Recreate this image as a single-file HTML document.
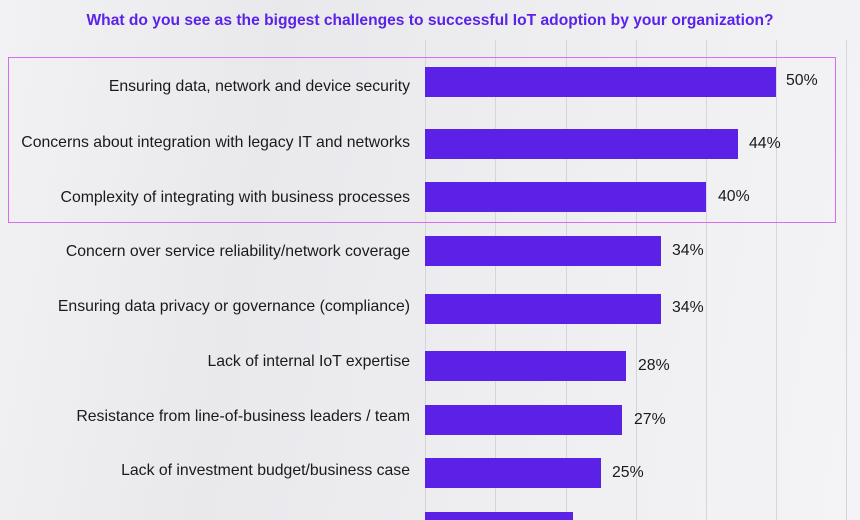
<!DOCTYPE html>
<html><head><style>
html,body{margin:0;width:860px;height:520px;overflow:hidden}
body{font-family:"Liberation Sans",sans-serif;
background:linear-gradient(100deg,#f2f2f4 0%,#e9e9ec 30%,#eeeef1 60%,#f4f4f6 100%);position:relative}
.t{position:absolute;top:12px;left:0;width:860px;text-align:center;color:#5b22e8;font-weight:bold;font-size:15.6px}
.g{position:absolute;top:40px;width:1px;height:480px;background:#d6d6da}
.b{position:absolute;left:425px;height:30px;background:#5b21e6}
.l{position:absolute;right:450px;font-size:15.8px;color:#1a1a1a;white-space:nowrap;text-align:right}
.v{position:absolute;font-size:15.8px;color:#1a1a1a}
.box{position:absolute;left:8px;top:57px;width:826px;height:164px;border:1.5px solid #d66df0}
</style></head><body>
<div class="t">What do you see as the biggest challenges to successful IoT adoption by your organization?</div>
<div class="g" style="left:425px"></div><div class="g" style="left:495px"></div><div class="g" style="left:566px"></div>
<div class="g" style="left:636px"></div><div class="g" style="left:706px"></div><div class="g" style="left:776px"></div><div class="g" style="left:846px"></div>
<div class="box"></div>

<div class="b" style="top:67px;width:351px"></div><div class="l" style="top:78px">Ensuring data, network and device security</div><div class="v" style="top:72px;left:786px">50%</div>
<div class="b" style="top:129px;width:313px"></div><div class="l" style="top:134px">Concerns about integration with legacy IT and networks</div><div class="v" style="top:135px;left:749px">44%</div>
<div class="b" style="top:182px;width:281px"></div><div class="l" style="top:189px">Complexity of integrating with business processes</div><div class="v" style="top:188px;left:718px">40%</div>
<div class="b" style="top:236px;width:236px"></div><div class="l" style="top:243px">Concern over service reliability/network coverage</div><div class="v" style="top:242px;left:672px">34%</div>
<div class="b" style="top:294px;width:236px"></div><div class="l" style="top:298px">Ensuring data privacy or governance (compliance)</div><div class="v" style="top:299px;left:672px">34%</div>
<div class="b" style="top:351px;width:201px"></div><div class="l" style="top:353px">Lack of internal IoT expertise</div><div class="v" style="top:357px;left:638px">28%</div>
<div class="b" style="top:405px;width:197px"></div><div class="l" style="top:408px">Resistance from line-of-business leaders / team</div><div class="v" style="top:411px;left:634px">27%</div>
<div class="b" style="top:458px;width:176px"></div><div class="l" style="top:462px">Lack of investment budget/business case</div><div class="v" style="top:464px;left:612px">25%</div>
<div class="b" style="top:512px;width:148px"></div>
</body></html>
